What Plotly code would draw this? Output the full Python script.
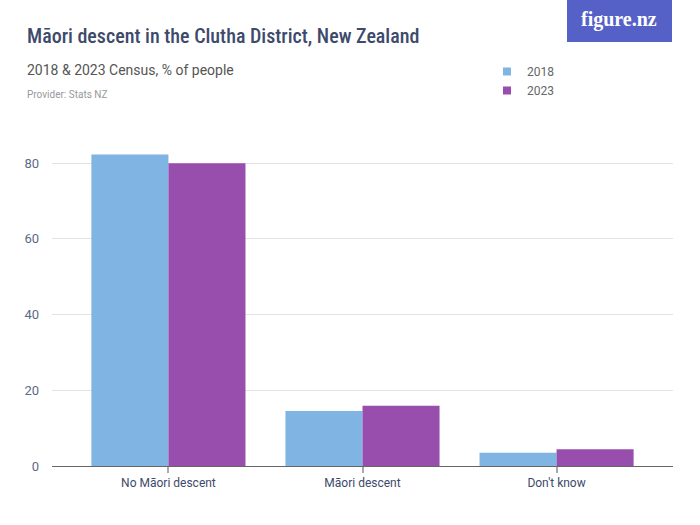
import plotly.graph_objects as go

categories = ["No Māori descent", "Māori descent", "Don't know"]
series_names = ["2018", "2023"]
values_2018 = [82.3, 14.5, 3.5]
values_2023 = [80.0, 15.9, 4.4]
colors = ["#7fb4e3", "#984ead"]
y_ticks = [0, 20, 40, 60, 80]

PLOT_TOP, PLOT_BOTTOM, PLOT_LEFT, PLOT_RIGHT = 125, 466, 52, 673


def py(px):
    return (PLOT_BOTTOM - px) / (PLOT_BOTTOM - PLOT_TOP)


def px_x(px):
    return (px - PLOT_LEFT) / (PLOT_RIGHT - PLOT_LEFT)


fig = go.Figure()
for name, vals, col in zip(series_names, [values_2018, values_2023], colors):
    fig.add_trace(go.Bar(x=categories, y=vals, name=name, marker=dict(color=col, line=dict(width=0)),
                         hoverinfo="x+y+name", showlegend=False))
    fig.add_trace(go.Scatter(x=[None], y=[None], mode="markers", name=name,
                             marker=dict(symbol="square", size=8, color=col), showlegend=True))

fig.update_layout(
    width=700, height=525,
    margin=dict(l=PLOT_LEFT, r=700 - PLOT_RIGHT, t=PLOT_TOP, b=525 - PLOT_BOTTOM),
    paper_bgcolor="white", plot_bgcolor="white",
    barmode="group", bargap=0.206, bargroupgap=0,
    font=dict(family="Roboto, sans-serif", color="#3d4a6b"),
    showlegend=True,
    legend=dict(x=px_x(487), y=1 - 57 / 525, xref="paper", yref="container",
                xanchor="left", yanchor="top",
                font=dict(size=12, color="#666666"), itemwidth=30, tracegroupgap=0,
                bgcolor="rgba(0,0,0,0)"),
    xaxis=dict(range=[-0.6, 2.6], showgrid=False, showline=True, linecolor="#666666", linewidth=1,
               ticks="outside", ticklen=6, tickcolor="#aaaaaa", tickwidth=2,
               tickfont=dict(size=12, color="#3d4a6b")),
    yaxis=dict(range=[0, 90.1], tickvals=y_ticks, showgrid=True, gridcolor="#e3e3e3", gridwidth=1,
               zeroline=False, showline=False, ticks="", ticklabelstandoff=12,
               tickfont=dict(size=13, color="#5a6a85")),
)

fig.add_annotation(text="Māori descent in the Clutha District, New Zealand",
                   xref="paper", yref="paper", x=px_x(25), y=py(36), xanchor="left", yanchor="middle",
                   showarrow=False,
                   font=dict(size=20, color="#3d4a6b", weight=500,
                             family="Liberation Sans Narrow, Roboto Condensed, Roboto, sans-serif"))
fig.add_annotation(text="2018 & 2023 Census, % of people",
                   xref="paper", yref="paper", x=px_x(25), y=py(70), xanchor="left", yanchor="middle",
                   showarrow=False, font=dict(size=14, color="#555555"))
fig.add_annotation(text="Provider: Stats NZ",
                   xref="paper", yref="paper", x=px_x(25), y=py(94), xanchor="left", yanchor="middle",
                   showarrow=False, font=dict(size=10, color="#999999"))

fig.add_shape(type="rect", xref="paper", yref="paper", x0=px_x(567), x1=px_x(672),
              y0=py(42), y1=py(-2), fillcolor="#5661c8", line=dict(width=0), layer="above")
fig.add_annotation(text="<b>figure.nz</b>", xref="paper", yref="paper", x=px_x(619), y=py(19),
                   xanchor="center", yanchor="middle", showarrow=False,
                   font=dict(size=20, color="white", family="Liberation Serif, DejaVu Serif, serif"))

fig.write_html("out.html")
